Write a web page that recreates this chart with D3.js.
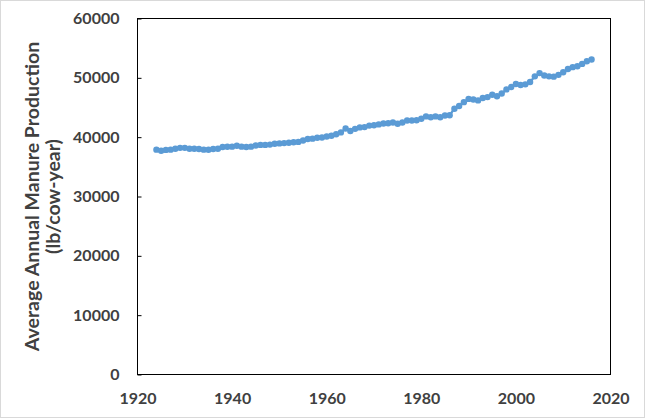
<!DOCTYPE html>
<html><head><meta charset="utf-8">
<script src="https://cdn.jsdelivr.net/npm/d3@7"></script>
<style>body{margin:0;background:#fff}svg{display:block}</style>
</head><body>
<svg id="c" width="645" height="418"></svg>
<script>
const years = d3.range(1924, 2017);
const manure = [
37900,37700,37850,37900,38050,38200,38200,38050,38050,38000,
37900,37870,38000,38050,38350,38380,38400,38550,38400,38350,
38400,38600,38700,38700,38750,38900,38950,39000,39050,39150,
39200,39450,39700,39750,39900,39950,40100,40250,40500,40800,
41450,41050,41400,41650,41700,41950,42000,42150,42300,42350,
42480,42250,42480,42800,42800,42850,43100,43500,43350,43500,
43350,43650,43700,44800,45250,45900,46450,46350,46200,46600,
46750,47150,46900,47350,48050,48450,48950,48800,48900,49300,
50250,50800,50400,50250,50200,50500,50950,51500,51800,51950,
52350,52800,53100];
const xTicks = [1920,1940,1960,1980,2000,2020];
const yTicks = [0,10000,20000,30000,40000,50000,60000];
const yTitle = ["Average Annual Manure Production","(lb/cow-year)"];

const svg = d3.select("#c");
const L = 137.5, R = 610.5, T = 18.5, B = 374.5;
const x = d3.scaleLinear().domain([1920,2020]).range([L,R]);
const y = d3.scaleLinear().domain([0,60000]).range([B,T]);
const data = years.map((yr,i)=>({yr, v: manure[i]}));

svg.append("rect").attr("x",0.5).attr("y",0.5).attr("width",644).attr("height",417)
  .attr("fill","#fff").attr("stroke","#d9d9d9");

svg.append("rect").attr("x",L).attr("y",T).attr("width",R-L).attr("height",B-T)
  .attr("fill","none").attr("stroke","#000").attr("stroke-width",1);

const font = "Lato, 'Open Sans', sans-serif";
const yAxis = svg.append("g").attr("transform",`translate(${L},0)`)
  .call(d3.axisLeft(y).tickValues(yTicks).tickSizeInner(-4).tickSizeOuter(0).tickPadding(18).tickFormat(d3.format("d")));
yAxis.select(".domain").remove();
yAxis.selectAll("line").attr("stroke","#000");
yAxis.selectAll("text").attr("font-family",font).attr("font-size",16).attr("font-weight","bold").attr("fill","#404040");

const xAxis = svg.append("g").attr("transform",`translate(0,${B})`)
  .call(d3.axisBottom(x).tickValues(xTicks).tickSize(0).tickPadding(18).tickFormat(d3.format("d")));
xAxis.select(".domain").remove();
xAxis.selectAll("text").attr("font-family",font).attr("font-size",16).attr("font-weight","bold").attr("fill","#404040");

const tg = svg.append("g").attr("transform",`translate(0,${(T+B)/2}) rotate(-90)`);
tg.selectAll("text").data(yTitle).join("text")
  .attr("x",0).attr("y",(d,i)=>39+i*21)
  .attr("text-anchor","middle")
  .attr("font-family",font).attr("font-size",19.5).attr("font-weight","bold").attr("fill","#404040")
  .text(d=>d);

svg.append("path").datum(data)
  .attr("d", d3.line().x(d=>x(d.yr)).y(d=>y(d.v)))
  .attr("fill","none").attr("stroke","#5B9BD5").attr("stroke-width",2.25);
svg.append("g").selectAll("circle").data(data).join("circle")
  .attr("cx",d=>x(d.yr)).attr("cy",d=>y(d.v)).attr("r",3.2).attr("fill","#5B9BD5");
</script>
</body></html>
